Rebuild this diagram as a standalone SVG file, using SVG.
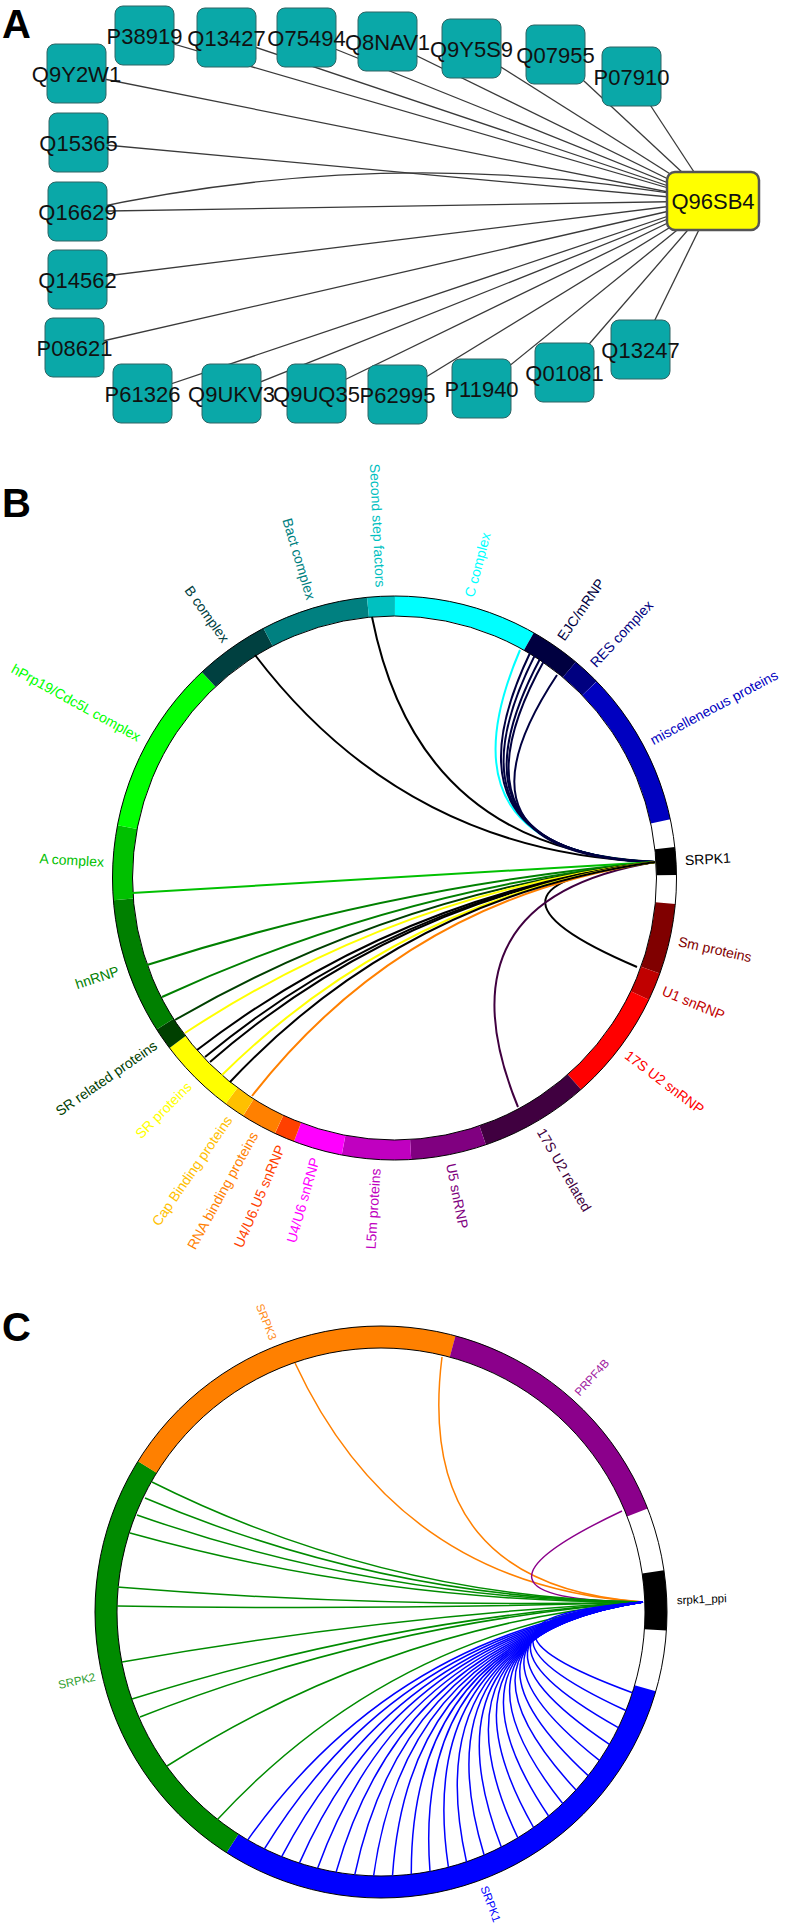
<svg xmlns="http://www.w3.org/2000/svg" width="785" height="1929" viewBox="0 0 785 1929">
<style>
text{font-family:"Liberation Sans",Arial,sans-serif}
.node rect{fill:#0aa8a8;stroke:#2e6464;stroke-width:1}
.node text{font-size:22px;text-anchor:middle;fill:#111}
.edge{stroke:#3a3a3a;stroke-width:1.3;fill:none}
.chB path{fill:none;stroke-width:2}
.chC path{fill:none;stroke-width:1.5}
.ring circle{fill:none}
.bl{font-size:14px}
.cl{font-size:11.5px}
.panel{font-size:40px;font-weight:bold;fill:#000}
</style>
<rect width="785" height="1929" fill="#fff"/>

<text class="panel" x="2" y="38">A</text>
<text class="panel" x="2" y="517">B</text>
<text class="panel" x="2" y="1341">C</text>

<!-- Panel A -->
<g id="edgesA" class="edge">
<path d="M144.5 35.5L713 201"/>
<path d="M226.5 37.5L713 201"/>
<path d="M306.5 37.5L713 201"/>
<path d="M387.5 41.5L713 201"/>
<path d="M471.5 48.5L713 201"/>
<path d="M555.5 54.5L713 201"/>
<path d="M631.5 76.5L713 201"/>
<path d="M76.5 73.5L713 201"/>
<path d="M78.5 142.5L713 201"/>
<path d="M77.5 211.5L713 201"/>
<path d="M77.5 211.5Q400 140 713 201"/>
<path d="M77.5 279.5L713 201"/>
<path d="M74.5 347.5L713 201"/>
<path d="M142.5 393.5L713 201"/>
<path d="M231.5 393.5L713 201"/>
<path d="M316.5 393.5L713 201"/>
<path d="M397.5 394.5L713 201"/>
<path d="M481.5 388.5L713 201"/>
<path d="M564.5 372.5L713 201"/>
<path d="M640.5 349.5L713 201"/>
</g>
<g id="n-P38919" class="node"><rect x="115" y="6" width="59" height="59" rx="8"/><text x="144.5" y="43.5">P38919</text></g>
<g id="n-Q13427" class="node"><rect x="197" y="8" width="59" height="59" rx="8"/><text x="226.5" y="45.5">Q13427</text></g>
<g id="n-O75494" class="node"><rect x="277" y="8" width="59" height="59" rx="8"/><text x="306.5" y="45.5">O75494</text></g>
<g id="n-Q8NAV1" class="node"><rect x="358" y="12" width="59" height="59" rx="8"/><text x="387.5" y="49.5">Q8NAV1</text></g>
<g id="n-Q9Y5S9" class="node"><rect x="442" y="19" width="59" height="59" rx="8"/><text x="471.5" y="56.5">Q9Y5S9</text></g>
<g id="n-Q07955" class="node"><rect x="526" y="25" width="59" height="59" rx="8"/><text x="555.5" y="62.5">Q07955</text></g>
<g id="n-P07910" class="node"><rect x="602" y="47" width="59" height="59" rx="8"/><text x="631.5" y="84.5">P07910</text></g>
<g id="n-Q9Y2W1" class="node"><rect x="47" y="44" width="59" height="59" rx="8"/><text x="76.5" y="81.5">Q9Y2W1</text></g>
<g id="n-Q15365" class="node"><rect x="49" y="113" width="59" height="59" rx="8"/><text x="78.5" y="150.5">Q15365</text></g>
<g id="n-Q16629" class="node"><rect x="48" y="182" width="59" height="59" rx="8"/><text x="77.5" y="219.5">Q16629</text></g>
<g id="n-Q14562" class="node"><rect x="48" y="250" width="59" height="59" rx="8"/><text x="77.5" y="287.5">Q14562</text></g>
<g id="n-P08621" class="node"><rect x="45" y="318" width="59" height="59" rx="8"/><text x="74.5" y="355.5">P08621</text></g>
<g id="n-P61326" class="node"><rect x="113" y="364" width="59" height="59" rx="8"/><text x="142.5" y="401.5">P61326</text></g>
<g id="n-Q9UKV3" class="node"><rect x="202" y="364" width="59" height="59" rx="8"/><text x="231.5" y="401.5">Q9UKV3</text></g>
<g id="n-Q9UQ35" class="node"><rect x="287" y="364" width="59" height="59" rx="8"/><text x="316.5" y="401.5">Q9UQ35</text></g>
<g id="n-P62995" class="node"><rect x="368" y="365" width="59" height="59" rx="8"/><text x="397.5" y="402.5">P62995</text></g>
<g id="n-P11940" class="node"><rect x="452" y="359" width="59" height="59" rx="8"/><text x="481.5" y="396.5">P11940</text></g>
<g id="n-Q01081" class="node"><rect x="535" y="343" width="59" height="59" rx="8"/><text x="564.5" y="380.5">Q01081</text></g>
<g id="n-Q13247" class="node"><rect x="611" y="320" width="59" height="59" rx="8"/><text x="640.5" y="357.5">Q13247</text></g>
<g id="n-Q96SB4" class="node"><rect x="667" y="172" width="92" height="58" rx="8" style="fill:#ffff00;stroke:#555;stroke-width:2.5"/><text x="713" y="209">Q96SB4</text></g>

<!-- Panel B ring -->
<g id="ringB" class="ring" stroke-width="20">
<circle cx="394.5" cy="878" r="272" pathLength="360" stroke="#000000" stroke-dasharray="5.7 400" transform="rotate(-6.3 394.5 878)"/>
<circle cx="394.5" cy="878" r="272" pathLength="360" stroke="#800000" stroke-dasharray="14.5 400" transform="rotate(5.3 394.5 878)"/>
<circle cx="394.5" cy="878" r="272" pathLength="360" stroke="#c00000" stroke-dasharray="5.8 400" transform="rotate(19.8 394.5 878)"/>
<circle cx="394.5" cy="878" r="272" pathLength="360" stroke="#ff0000" stroke-dasharray="23 400" transform="rotate(25.6 394.5 878)"/>
<circle cx="394.5" cy="878" r="272" pathLength="360" stroke="#400040" stroke-dasharray="22.5 400" transform="rotate(48.6 394.5 878)"/>
<circle cx="394.5" cy="878" r="272" pathLength="360" stroke="#800080" stroke-dasharray="15.5 400" transform="rotate(71.1 394.5 878)"/>
<circle cx="394.5" cy="878" r="272" pathLength="360" stroke="#c000c0" stroke-dasharray="14.2 400" transform="rotate(86.6 394.5 878)"/>
<circle cx="394.5" cy="878" r="272" pathLength="360" stroke="#ff00ff" stroke-dasharray="10.1 400" transform="rotate(100.8 394.5 878)"/>
<circle cx="394.5" cy="878" r="272" pathLength="360" stroke="#ff4000" stroke-dasharray="4.2 400" transform="rotate(110.9 394.5 878)"/>
<circle cx="394.5" cy="878" r="272" pathLength="360" stroke="#ff8000" stroke-dasharray="7.4 400" transform="rotate(115.1 394.5 878)"/>
<circle cx="394.5" cy="878" r="272" pathLength="360" stroke="#ffc000" stroke-dasharray="4.3 400" transform="rotate(122.5 394.5 878)"/>
<circle cx="394.5" cy="878" r="272" pathLength="360" stroke="#ffff00" stroke-dasharray="16.1 400" transform="rotate(126.8 394.5 878)"/>
<circle cx="394.5" cy="878" r="272" pathLength="360" stroke="#004000" stroke-dasharray="4.6 400" transform="rotate(142.9 394.5 878)"/>
<circle cx="394.5" cy="878" r="272" pathLength="360" stroke="#008000" stroke-dasharray="28 400" transform="rotate(147.5 394.5 878)"/>
<circle cx="394.5" cy="878" r="272" pathLength="360" stroke="#00c000" stroke-dasharray="15.3 400" transform="rotate(175.5 394.5 878)"/>
<circle cx="394.5" cy="878" r="272" pathLength="360" stroke="#00ff00" stroke-dasharray="36.1 400" transform="rotate(190.8 394.5 878)"/>
<circle cx="394.5" cy="878" r="272" pathLength="360" stroke="#004040" stroke-dasharray="15.4 400" transform="rotate(226.9 394.5 878)"/>
<circle cx="394.5" cy="878" r="272" pathLength="360" stroke="#008080" stroke-dasharray="22.1 400" transform="rotate(242.3 394.5 878)"/>
<circle cx="394.5" cy="878" r="272" pathLength="360" stroke="#00c0c0" stroke-dasharray="5.7 400" transform="rotate(264.4 394.5 878)"/>
<circle cx="394.5" cy="878" r="272" pathLength="360" stroke="#00ffff" stroke-dasharray="29.5 400" transform="rotate(270.1 394.5 878)"/>
<circle cx="394.5" cy="878" r="272" pathLength="360" stroke="#000040" stroke-dasharray="10.4 400" transform="rotate(299.6 394.5 878)"/>
<circle cx="394.5" cy="878" r="272" pathLength="360" stroke="#000080" stroke-dasharray="5.8 400" transform="rotate(310 394.5 878)"/>
<circle cx="394.5" cy="878" r="272" pathLength="360" stroke="#0000c0" stroke-dasharray="32.2 400" transform="rotate(315.8 394.5 878)"/>
<circle cx="394.5" cy="878" r="282" stroke="#000" stroke-width="1"/>
<circle cx="394.5" cy="878" r="262" stroke="#000" stroke-width="1"/>
</g>

<g id="chordsB" class="chB">
<path d="M255 655Q406.6 854.1 655 862" stroke="#000"/>
<path d="M372 617Q418.3 850.3 655 862" stroke="#000"/>
<path d="M520 650Q433.1 853.6 655 862" stroke="#00ffff"/>
<path d="M530 653Q434.1 853.9 655 862" stroke="#000040"/>
<path d="M535 655Q434.6 854.1 655 862" stroke="#000040"/>
<path d="M541 657Q435.2 854.3 655 862" stroke="#000040"/>
<path d="M545 659Q435.6 854.5 655 862" stroke="#000040"/>
<path d="M557 675Q436.8 856.1 655 862" stroke="#000040"/>
<path d="M637 967Q444.8 885.3 655 862" stroke="#000"/>
<path d="M518 1107Q432.9 899.3 655 862" stroke="#400040"/>
<path d="M252 1096Q406.3 898.2 655 862" stroke="#ff8000"/>
<path d="M132 893Q394.3 877.9 655 862" stroke="#00c000"/>
<path d="M147 965Q395.8 885.1 655 862" stroke="#008000"/>
<path d="M162 997Q397.3 888.3 655 862" stroke="#008000"/>
<path d="M175 1020Q398.6 890.6 655 862" stroke="#004000"/>
<path d="M185 1033Q399.6 891.9 655 862" stroke="#ffff00"/>
<path d="M197 1050Q400.8 893.6 655 862" stroke="#000"/>
<path d="M205 1057Q401.6 894.3 655 862" stroke="#000"/>
<path d="M210 1062Q402.1 894.8 655 862" stroke="#000"/>
<path d="M222 1075Q403.3 896.1 655 862" stroke="#ffff00"/>
<path d="M230 1082Q404.1 896.8 655 862" stroke="#000"/>
</g>

<g id="labelsB" class="bl">
<text transform="rotate(-3.45 394.5 878)" x="685.5" y="878" dy=".35em" fill="#000">SRPK1</text>
<text transform="rotate(12.55 394.5 878)" x="685.5" y="878" dy=".35em" fill="#800000">Sm proteins</text>
<text transform="rotate(22.7 394.5 878)" x="685.5" y="878" dy=".35em" fill="#c00000">U1 snRNP</text>
<text transform="rotate(37.1 394.5 878)" x="685.5" y="878" dy=".35em" fill="#ff0000">17S U2 snRNP</text>
<text transform="rotate(59.85 394.5 878)" x="685.5" y="878" dy=".35em" fill="#400040">17S U2 related</text>
<text transform="rotate(78.85 394.5 878)" x="685.5" y="878" dy=".35em" fill="#800080">U5 snRNP</text>
<text transform="rotate(93.7 394.5 878) rotate(180 685.5 878)" x="685.5" y="878" dy=".35em" text-anchor="end" fill="#c000c0">L5m proteins</text>
<text transform="rotate(105.85 394.5 878) rotate(180 685.5 878)" x="685.5" y="878" dy=".35em" text-anchor="end" fill="#ff00ff">U4/U6 snRNP</text>
<text transform="rotate(113 394.5 878) rotate(180 685.5 878)" x="685.5" y="878" dy=".35em" text-anchor="end" fill="#ff4000">U4/U6.U5 snRNP</text>
<text transform="rotate(118.8 394.5 878) rotate(180 685.5 878)" x="685.5" y="878" dy=".35em" text-anchor="end" fill="#ff8000">RNA binding proteins</text>
<text transform="rotate(124.65 394.5 878) rotate(180 685.5 878)" x="685.5" y="878" dy=".35em" text-anchor="end" fill="#ffc000">Cap Binding proteins</text>
<text transform="rotate(134.85 394.5 878) rotate(180 685.5 878)" x="685.5" y="878" dy=".35em" text-anchor="end" fill="#ffff00">SR proteins</text>
<text transform="rotate(145.2 394.5 878) rotate(180 685.5 878)" x="685.5" y="878" dy=".35em" text-anchor="end" fill="#004000">SR related proteins</text>
<text transform="rotate(161.5 394.5 878) rotate(180 685.5 878)" x="685.5" y="878" dy=".35em" text-anchor="end" fill="#008000">hnRNP</text>
<text transform="rotate(183.15 394.5 878) rotate(180 685.5 878)" x="685.5" y="878" dy=".35em" text-anchor="end" fill="#00c000">A complex</text>
<text transform="rotate(208.85 394.5 878) rotate(180 685.5 878)" x="685.5" y="878" dy=".35em" text-anchor="end" fill="#00ff00">hPrp19/Cdc5L complex</text>
<text transform="rotate(234.6 394.5 878) rotate(180 685.5 878)" x="685.5" y="878" dy=".35em" text-anchor="end" fill="#004040">B complex</text>
<text transform="rotate(253.35 394.5 878) rotate(180 685.5 878)" x="685.5" y="878" dy=".35em" text-anchor="end" fill="#008080">Bact complex</text>
<text transform="rotate(267.25 394.5 878) rotate(180 685.5 878)" x="685.5" y="878" dy=".35em" text-anchor="end" fill="#00c0c0">Second step factors</text>
<text transform="rotate(-75.15 394.5 878)" x="685.5" y="878" dy=".35em" fill="#00ffff">C complex</text>
<text transform="rotate(-55.2 394.5 878)" x="685.5" y="878" dy=".35em" fill="#000040">EJC/mRNP</text>
<text transform="rotate(-47.1 394.5 878)" x="685.5" y="878" dy=".35em" fill="#000080">RES complex</text>
<text transform="rotate(-28.1 394.5 878)" x="685.5" y="878" dy=".35em" fill="#0000c0">miscelleneous proteins</text>
</g>

<!-- Panel C -->
<g id="ringC" class="ring" stroke-width="22">
<circle cx="381" cy="1612" r="275" pathLength="360" stroke="#000000" stroke-dasharray="12.15 400" transform="rotate(-8.4 381 1612)"/>
<circle cx="381" cy="1612" r="275" pathLength="360" stroke="#0000ff" stroke-dasharray="106.6 400" transform="rotate(16.1 381 1612)"/>
<circle cx="381" cy="1612" r="275" pathLength="360" stroke="#008b00" stroke-dasharray="89.1 400" transform="rotate(122.7 381 1612)"/>
<circle cx="381" cy="1612" r="275" pathLength="360" stroke="#ff8000" stroke-dasharray="73.3 400" transform="rotate(211.8 381 1612)"/>
<circle cx="381" cy="1612" r="275" pathLength="360" stroke="#8b008b" stroke-dasharray="53.7 400" transform="rotate(285.1 381 1612)"/>
<circle cx="381" cy="1612" r="286" stroke="#000" stroke-width="1"/>
<circle cx="381" cy="1612" r="264" stroke="#000" stroke-width="1"/>
</g>

<g id="chordsC" class="chC">
<path d="M295 1363Q398.6 1586.1 643 1602" stroke="#ff8000"/>
<path d="M442 1357Q413.3 1585.5 643 1602" stroke="#ff8000"/>
<path d="M622 1511Q431.3 1600.9 643 1602" stroke="#8b008b"/>
<path d="M152 1482Q384.3 1598 643 1602" stroke="#008b00"/>
<path d="M145 1498Q383.6 1599.6 643 1602" stroke="#008b00"/>
<path d="M137 1515Q382.8 1601.3 643 1602" stroke="#008b00"/>
<path d="M130 1533Q382.1 1603.1 643 1602" stroke="#008b00"/>
<path d="M117 1587Q380.8 1608.5 643 1602" stroke="#008b00"/>
<path d="M117 1606Q380.8 1610.4 643 1602" stroke="#008b00"/>
<path d="M122 1662Q381.3 1616 643 1602" stroke="#008b00"/>
<path d="M132 1699Q382.3 1619.7 643 1602" stroke="#008b00"/>
<path d="M140 1717Q383.1 1621.5 643 1602" stroke="#008b00"/>
<path d="M167 1766Q385.8 1626.4 643 1602" stroke="#008b00"/>
<path d="M217 1820Q390.8 1631.8 643 1602" stroke="#008b00"/>
<path d="M632.4 1692.7Q432.3 1619.1 643 1602" stroke="#0000ff"/>
<path d="M625.9 1710.5Q431.7 1620.9 643 1602" stroke="#0000ff"/>
<path d="M618.3 1727.7Q430.9 1622.6 643 1602" stroke="#0000ff"/>
<path d="M609.4 1744.4Q430 1624.2 643 1602" stroke="#0000ff"/>
<path d="M599.4 1760.4Q429 1625.8 643 1602" stroke="#0000ff"/>
<path d="M588.2 1775.6Q427.9 1627.4 643 1602" stroke="#0000ff"/>
<path d="M576 1790Q426.7 1628.8 643 1602" stroke="#0000ff"/>
<path d="M562.7 1803.5Q425.4 1630.2 643 1602" stroke="#0000ff"/>
<path d="M548.6 1816Q424 1631.4 643 1602" stroke="#0000ff"/>
<path d="M533.6 1827.5Q422.5 1632.6 643 1602" stroke="#0000ff"/>
<path d="M517.8 1837.8Q420.9 1633.6 643 1602" stroke="#0000ff"/>
<path d="M501.3 1847Q419.2 1634.5 643 1602" stroke="#0000ff"/>
<path d="M484.1 1855Q417.5 1635.3 643 1602" stroke="#0000ff"/>
<path d="M466.5 1861.8Q415.8 1636 643 1602" stroke="#0000ff"/>
<path d="M448.4 1867.2Q413.9 1636.5 643 1602" stroke="#0000ff"/>
<path d="M430 1871.4Q412.1 1637 643 1602" stroke="#0000ff"/>
<path d="M411.3 1874.3Q410.2 1637.2 643 1602" stroke="#0000ff"/>
<path d="M392.5 1875.7Q408.4 1637.4 643 1602" stroke="#0000ff"/>
<path d="M373.6 1875.9Q406.5 1637.4 643 1602" stroke="#0000ff"/>
<path d="M354.8 1874.7Q404.6 1637.3 643 1602" stroke="#0000ff"/>
<path d="M336.1 1872.1Q402.7 1637 643 1602" stroke="#0000ff"/>
<path d="M317.6 1868.3Q400.9 1636.6 643 1602" stroke="#0000ff"/>
<path d="M299.4 1863.1Q399 1636.1 643 1602" stroke="#0000ff"/>
<path d="M281.7 1856.6Q397.3 1635.5 643 1602" stroke="#0000ff"/>
<path d="M264.4 1848.9Q395.5 1634.7 643 1602" stroke="#0000ff"/>
<path d="M247.8 1839.9Q393.9 1634 643 1602" stroke="#0000ff"/>
</g>

<g id="labelsC" class="cl">
<text transform="rotate(-2.3 381 1612)" x="677" y="1612" dy=".35em" fill="#000">srpk1_ppi</text>
<text transform="rotate(69.4 381 1612)" x="674" y="1612" dy=".35em" fill="#0000ff">SRPK1</text>
<text transform="rotate(167.25 381 1612) rotate(180 674 1612)" x="674" y="1612" dy=".35em" text-anchor="end" fill="#2e9e2e">SRPK2</text>
<text transform="rotate(248.45 381 1612) rotate(180 674 1612)" x="674" y="1612" dy=".35em" text-anchor="end" fill="#ff8c1a">SRPK3</text>
<text transform="rotate(-48.05 381 1612)" x="674" y="1612" dy=".35em" fill="#a020a0">PRPF4B</text>
</g>
</svg>
